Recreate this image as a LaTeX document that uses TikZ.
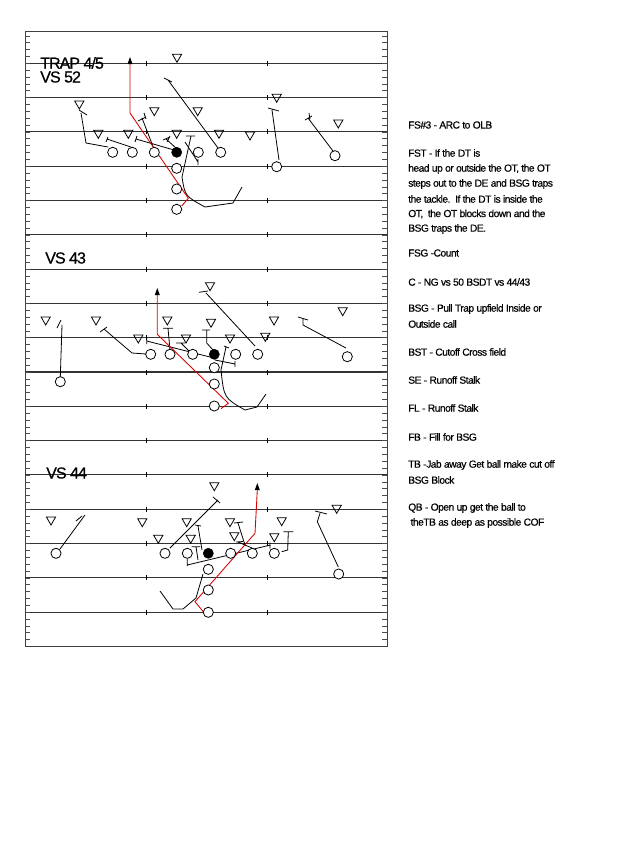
\documentclass[tikz,border=0pt]{standalone}
\usepackage{fontspec}
\setmainfont{Liberation Sans}
\usetikzlibrary{arrows.meta}
\begin{document}
\begin{tikzpicture}[x=0.75pt,y=-0.75pt,
  off/.style={circle,draw,line width=0.6pt,minimum size=7.6pt,inner sep=0pt,fill=white},
  ctr/.style={circle,draw,fill=black,minimum size=7.6pt,inner sep=0pt},
  yard/.style={line width=0.8pt,black!80},
  rt/.style={line width=0.6pt},
  red/.style={line width=0.65pt,draw=red!85!black},
  dtri/.pic={\draw[line width=0.6pt] (-4.6,-4)--(4.6,-4)--(0,4)--cycle;},
  ttl/.style={font=\fontsize{12pt}{12pt}\selectfont\addfontfeatures{LetterSpace=-6,FakeBold=0.6},anchor=west,inner sep=0pt},
  txt/.style={font=\fontsize{7.7pt}{7.7pt}\selectfont\addfontfeatures{LetterSpace=-5,FakeBold=0.4},anchor=west,inner sep=0pt}]
\useasboundingbox (0,0) rectangle (638,851);
\fill[white] (0,0) rectangle (638,851);
% field
\draw[line width=0.7pt,black!75] (25,31) rectangle (387,646);
\foreach \i in {0,...,16} {
  \pgfmathsetmacro\yy{63.3+34.3*\i}
  \draw[yard] (25,\yy) -- (387,\yy);
  \draw[rt] (146,\yy-2.5) -- (146,\yy+2.5);
  \draw[rt] (267,\yy-2.5) -- (267,\yy+2.5);
}
\foreach \i in {-4,...,84} {
  \pgfmathsetmacro\yy{63.3+6.86*\i}
  \draw[line width=0.4pt,black!70] (25,\yy) -- (30,\yy);
  \draw[line width=0.4pt,black!70] (382,\yy) -- (387,\yy);
}
% ================= PLAY 1
\node[ttl] (t1) at (40,63) {TRAP 4/5};
\node[ttl] (t1b) at (40,77) {VS 52};
\draw[rt] (79,110)--(87,115) (81,113)--(86,143)--(108,147);
\draw[rt] (108,137)--(106,142) (107,139)--(131,147);
\draw[rt] (137,136)--(135,142) (136,139)--(174,150);
\draw[rt] (146,117)--(138,121) (144,113)--(146,119) (142,118)--(154,149);
\draw[rt] (163,140)--(170,137) (166,139)--(176,148) (167,142)--(170,136);
\draw[rt] (186,136)--(195,136) (191,136)--(182,177) (182,177)..controls (185,196)..(205,207)--(233,203)--(242,187);
\draw[rt] (185,142)--(198,162) (198,159)--(198,165);
\draw[rt] (164,78)--(172,82) (168,80)--(218,148);
\draw[rt] (268,108)--(279,111) (272,110)--(279,160);
\draw[rt] (305,120)--(312,116) (309,113)--(310,119) (308,118)--(333,151);
\draw[red] (181.7,206)--(188.3,198.3)--(130,113)--(130,63);
\fill (130,57)--(127.5,64)--(132.5,64)--cycle;
\foreach \n/\x/\y in {a1/112.7/152.3,a2/132.3/152.3,a3/154.3/152.3,a5/198.3/152.3,a6/220.7/152.3,a7/176.7/168.3,a8/176.7/189,a9/176.7/209.3,a10/276.7/166.7,a11/335/155.7}
  \node[off] (\n) at (\x,\y) {};
\node[ctr] (a4) at (176.7,152.3) {};
\foreach \x/\y in {177/58.3,79.3/105,154.3/111.7,197.7/111.7,276.7/98.3,338.3/124,98.3/134.3,128.3/134.3,176.7/134.3,219/134.3,250/136}
  \pic at (\x,\y) {dtri};
% ================= PLAY 2
\node[ttl] (t2) at (45,258) {VS 43};
\draw[rt] (57,328)--(61,320) (62,325)--(60.3,377);
\draw[rt] (100,332)--(107,327) (104,329)--(132,353)--(146,354);
\draw[rt] (146.7,338)--(146.7,344) (146.7,341)--(210,357);
\draw[rt] (163,328.3)--(173,328.3) (168,328.3)--(170,350);
\draw[rt] (176,343)--(185,343) (181,343)--(190,352);
\draw[rt] (202,330)--(210,330) (206.7,330)--(206.7,343)--(213,350);
\draw[rt] (224,346)--(229,348) (226,347)--(221,370) (221,370)..controls (224,398)..(245,410)--(257,407)--(266,394);
\draw[rt] (215,360)--(235,364) (235,361)--(235,367);
\draw[rt] (199,292.3)--(208,291) (206,293)--(255,346);
\draw[rt] (298,317)--(308,320) (303,319)--(303,325)--(346,348);
\draw[red] (221,408.7)--(228.3,403.3)--(157.3,334.3)--(157.3,295);
\fill (157.3,288)--(154.8,295)--(159.8,295)--cycle;
\foreach \n/\x/\y in {b1/150.7/354.3,b2/170/354.3,b3/192.7/354.3,b5/235.7/354.3,b6/257.7/354.3,b7/214.3/367.7,b8/214.3/384,b9/214.3/406,b10/60.3/381.7,b11/347.3/356.7}
  \node[off] (\n) at (\x,\y) {};
\node[ctr] (b4) at (214.3,354.3) {};
\foreach \x/\y in {210/286.7,45.7/321,96/321,167.3/321,211/323.3,274/321,342.7/311.7,138.3/339,186/339,230/339,265.3/337.3}
  \pic at (\x,\y) {dtri};
% ================= PLAY 3
\node[ttl] (t3) at (46,473) {VS 44};
\draw[rt] (76,521)--(82,516) (60,549)--(85,515);
\draw[rt] (170,548)--(218,500) (213,497)--(220,503);
\draw[rt] (195,525)--(201,526) (198,526)--(202,550);
\draw[rt] (191.7,546.7)--(200,546.7) (196,546.7)--(198,560);
\draw[rt] (187.3,559)--(187.3,566) (187.3,565)--(270.5,545) (270,542.5)--(270,548.5);
\draw[rt] (234,523)--(243,522) (238,523)--(245,545);
\draw[rt] (236,542)--(243,541.5) (238,542)--(252,548);
\draw[rt] (283.3,531.7)--(293.3,531.7) (288.3,531.7)--(287.7,550)--(281.7,551.7);
\draw[rt] (315,511)--(327,514) (320,513.3)--(317.3,521.7)--(338.3,567);
\draw[rt] (203,574)--(196,598)--(183,609)--(173,609)--(160,591);
\draw[red] (203.3,611.7)--(195,601.7)--(255,533.3)--(257.3,490);
\fill (257.3,483)--(254.8,490)--(259.8,490)--cycle;
\foreach \n/\x/\y in {c1/56/553.3,c2/165/553.3,c3/187.3/553.3,c5/230.7/553.3,c6/252.3/553.3,c7/274.3/553.3,c8/208.3/569.3,c9/208.3/590,c10/208.3/612.3,c11/338.7/574}
  \node[off] (\n) at (\x,\y) {};
\node[ctr] (c4) at (208.3,553.3) {};
\foreach \x/\y in {214.3/486.7,51/521,142.3/522.7,186.7/522.7,230/522.7,281.7/521.7,336.7/509.3,158.3/539.3,190.7/539.3,234.3/536.7,274.3/537.7}
  \pic at (\x,\y) {dtri};
% ================= TEXT
\foreach \y/\s [count=\k] in {125/{FS\#3 - ARC to OLB},153/{FST - If the DT is},169/{head up or outside the OT, the OT},184/{steps out to the DE and BSG traps},199/{the tackle.\ \ If the DT is inside the},214/{OT,\ \ the OT blocks down and the},229/{BSG traps the DE.},253/{FSG -Count},282/{C - NG vs 50 BSDT vs 44/43},309/{BSG - Pull Trap upfield Inside or},324/{Outside call},352/{BST - Cutoff Cross field},380/{SE - Runoff Stalk},408/{FL - Runoff Stalk},437/{FB - Fill for BSG},465/{TB -Jab away Get ball make cut off},480/{BSG Block},508/{QB - Open up get the ball to},523/{\ theTB as deep as possible COF}}
  \node[txt] (txt\k) at (408,\y) {\s};
\end{tikzpicture}
\end{document}
